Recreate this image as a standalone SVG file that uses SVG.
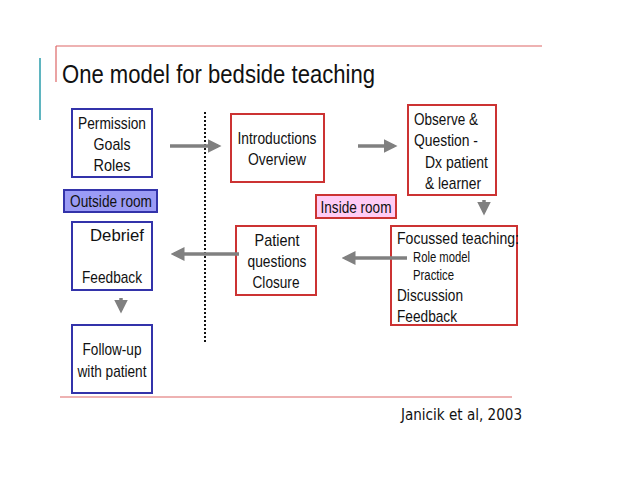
<svg xmlns="http://www.w3.org/2000/svg" width="638" height="478" viewBox="0 0 638 478">
<style>
text{font-family:"Liberation Sans",Arial,sans-serif;fill:#111;font-size:17px;text-anchor:middle}
.b{fill:#fff;stroke:#3333aa;stroke-width:2}
.r{fill:#fff;stroke:#cc3333;stroke-width:2}
.c line{stroke:#808080;stroke-width:3.5;marker-end:url(#a)}
.l{text-anchor:start}
</style>
<defs><marker id="a" markerWidth="4" markerHeight="4" refX="3" refY="2" orient="auto" markerUnits="strokeWidth"><path d="M0,0L4,2L0,4z" fill="#808080"/></marker></defs>
<rect width="638" height="478" fill="#fff"/>
<line x1="56" y1="46" x2="542" y2="46" stroke="#d66" stroke-width="1.2"/>
<line x1="56" y1="46" x2="56" y2="82" stroke="#d66" stroke-width="1.2"/>
<line x1="40" y1="58" x2="40" y2="120" stroke="#5fb5c0" stroke-width="2"/>
<text x="62" y="83" class="l" style="font-size:25px" textLength="313" lengthAdjust="spacingAndGlyphs">One model for bedside teaching</text>
<line x1="205" y1="112" x2="205" y2="343" stroke="#111" stroke-width="2" stroke-dasharray="2,2"/>
<g id="permission"><rect class="b" x="72" y="109" width="80" height="68"/><text x="112" y="129" textLength="68" lengthAdjust="spacingAndGlyphs">Permission</text><text x="112" y="150" textLength="37" lengthAdjust="spacingAndGlyphs">Goals</text><text x="112" y="171" textLength="37" lengthAdjust="spacingAndGlyphs">Roles</text></g>
<g id="outside"><rect x="64" y="190" width="93" height="22" fill="#9b9bf5" stroke="#3333aa" stroke-width="2"/><text x="111" y="207" textLength="82" lengthAdjust="spacingAndGlyphs">Outside room</text></g>
<g id="debrief"><rect class="b" x="72" y="222" width="80" height="68"/><text x="117" y="241" textLength="54" lengthAdjust="spacingAndGlyphs">Debrief</text><text x="112" y="283" textLength="60" lengthAdjust="spacingAndGlyphs">Feedback</text></g>
<g id="followup"><rect class="b" x="72" y="325" width="80" height="68"/><text x="112" y="355" textLength="59" lengthAdjust="spacingAndGlyphs">Follow-up</text><text x="112" y="377" textLength="69" lengthAdjust="spacingAndGlyphs">with patient</text></g>
<g id="intro"><rect class="r" x="231" y="114" width="93" height="68"/><text x="277" y="144" textLength="79" lengthAdjust="spacingAndGlyphs">Introductions</text><text x="277" y="165" textLength="58" lengthAdjust="spacingAndGlyphs">Overview</text></g>
<g id="observe"><rect class="r" x="408" y="105" width="88" height="90"/><text x="414" y="125" class="l" textLength="64" lengthAdjust="spacingAndGlyphs">Observe &amp;</text><text x="414" y="146" class="l" textLength="64" lengthAdjust="spacingAndGlyphs">Question -</text><text x="425" y="168" class="l" textLength="63" lengthAdjust="spacingAndGlyphs">Dx patient</text><text x="425" y="189" class="l" textLength="56" lengthAdjust="spacingAndGlyphs">&amp; learner</text></g>
<g id="inside"><rect x="316" y="195" width="80" height="23" fill="#ffccf5" stroke="#cc3333" stroke-width="2"/><text x="356" y="213" textLength="71" lengthAdjust="spacingAndGlyphs">Inside room</text></g>
<g id="patientq"><rect class="r" x="236" y="226" width="80" height="69"/><text x="277" y="246" textLength="45" lengthAdjust="spacingAndGlyphs">Patient</text><text x="277" y="267" textLength="59" lengthAdjust="spacingAndGlyphs">questions</text><text x="276" y="288" textLength="47" lengthAdjust="spacingAndGlyphs">Closure</text></g>
<g id="focus"><rect class="r" x="391" y="226" width="126" height="99"/><text x="397" y="244" class="l" textLength="122" lengthAdjust="spacingAndGlyphs">Focussed teaching:</text><text x="413" y="262" class="l" style="font-size:14px" textLength="57" lengthAdjust="spacingAndGlyphs">Role model</text><text x="413" y="280" class="l" style="font-size:14px" textLength="41" lengthAdjust="spacingAndGlyphs">Practice</text><text x="397" y="301" class="l" textLength="66" lengthAdjust="spacingAndGlyphs">Discussion</text><text x="397" y="322" class="l" textLength="60" lengthAdjust="spacingAndGlyphs">Feedback</text></g>
<g class="c">
<line x1="170" y1="146" x2="218" y2="146"/>
<line x1="358" y1="146" x2="394" y2="146"/>
<line x1="484" y1="200" x2="484" y2="212"/>
<line x1="407" y1="258" x2="345" y2="258"/>
<line x1="239" y1="254" x2="174" y2="254"/>
<line x1="121" y1="298" x2="121" y2="310"/>
</g>
<line x1="60" y1="397" x2="512" y2="397" stroke="#d66" stroke-width="1.2"/>
<text x="522" y="420" style="text-anchor:end;font-family:'DejaVu Sans',sans-serif;font-size:15px" textLength="121" lengthAdjust="spacingAndGlyphs">Janicik et al, 2003</text>
</svg>
